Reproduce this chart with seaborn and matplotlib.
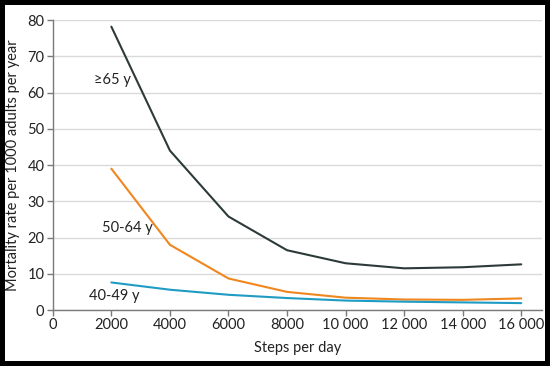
import matplotlib
matplotlib.use("Agg")
import pandas as pd
import matplotlib.pyplot as plt
import seaborn as sns

steps = [2000, 4000, 6000, 8000, 10000, 12000, 14000, 16000]
age_65 = [78.2, 44.0, 25.8, 16.5, 12.9, 11.5, 11.8, 12.6]
age_50_64 = [39.0, 18.0, 8.7, 5.0, 3.4, 2.9, 2.8, 3.2]
age_40_49 = [7.6, 5.6, 4.2, 3.3, 2.6, 2.3, 2.1, 1.9]
groups = ["≥65 y", "50-64 y", "40-49 y"]
x_ticks = [0, 2000, 4000, 6000, 8000, 10000, 12000, 14000, 16000]
x_ticklabels = ["0", "2000", "4000", "6000", "8000", "10 000", "12 000", "14 000", "16 000"]

df = pd.concat([
    pd.DataFrame({"steps": steps, "rate": age_65, "group": groups[0]}),
    pd.DataFrame({"steps": steps, "rate": age_50_64, "group": groups[1]}),
    pd.DataFrame({"steps": steps, "rate": age_40_49, "group": groups[2]}),
])

sns.set_theme(style="white")
plt.rcParams["font.family"] = ["Lato", "DejaVu Sans"]
my_palette = {"≥65 y": "#2d3a3a", "50-64 y": "#f0861e", "40-49 y": "#1f9cc4"}
fs = 10.5

fig = plt.figure(figsize=(5.5, 3.66), dpi=100)
fig.patch.set_edgecolor("black")
fig.patch.set_linewidth(6)
ax = fig.add_axes([0.096, 0.153, 0.889, 0.792])

f = sns.lineplot(data=df, x="steps", y="rate", hue="group", palette=my_palette,
                 linewidth=1.5, ax=ax, legend=False)

f.set_xlim(0, 16700)
f.set_ylim(0, 80)
f.set_xticks(x_ticks)
f.set_xticklabels(x_ticklabels)
f.set_yticks(range(0, 81, 10))
f.yaxis.grid(True, color="#dadada", linewidth=1)
f.set_axisbelow(True)
for s in ["top", "right"]:
    f.spines[s].set_visible(False)
for s in ["left", "bottom"]:
    f.spines[s].set_color("#7a7a7a")
    f.spines[s].set_linewidth(1)
f.tick_params(axis="both", direction="out", length=4, width=1, color="#7a7a7a",
              labelsize=fs, labelcolor="#222222", pad=2, bottom=True, left=True)
f.set_xlabel("Steps per day", fontsize=fs, color="#222222", labelpad=6)
f.set_ylabel("Mortality rate per 1000 adults per year", fontsize=fs, color="#222222", labelpad=5)

# group labels
f.text(2050, 63.4, groups[0], fontsize=fs, color="#222222", ha="center", va="center")
f.text(2550, 22.6, groups[1], fontsize=fs, color="#222222", ha="center", va="center")
f.text(2100, 3.8, groups[2], fontsize=fs, color="#222222", ha="center", va="center")

fig.savefig("out.png", dpi=100)
